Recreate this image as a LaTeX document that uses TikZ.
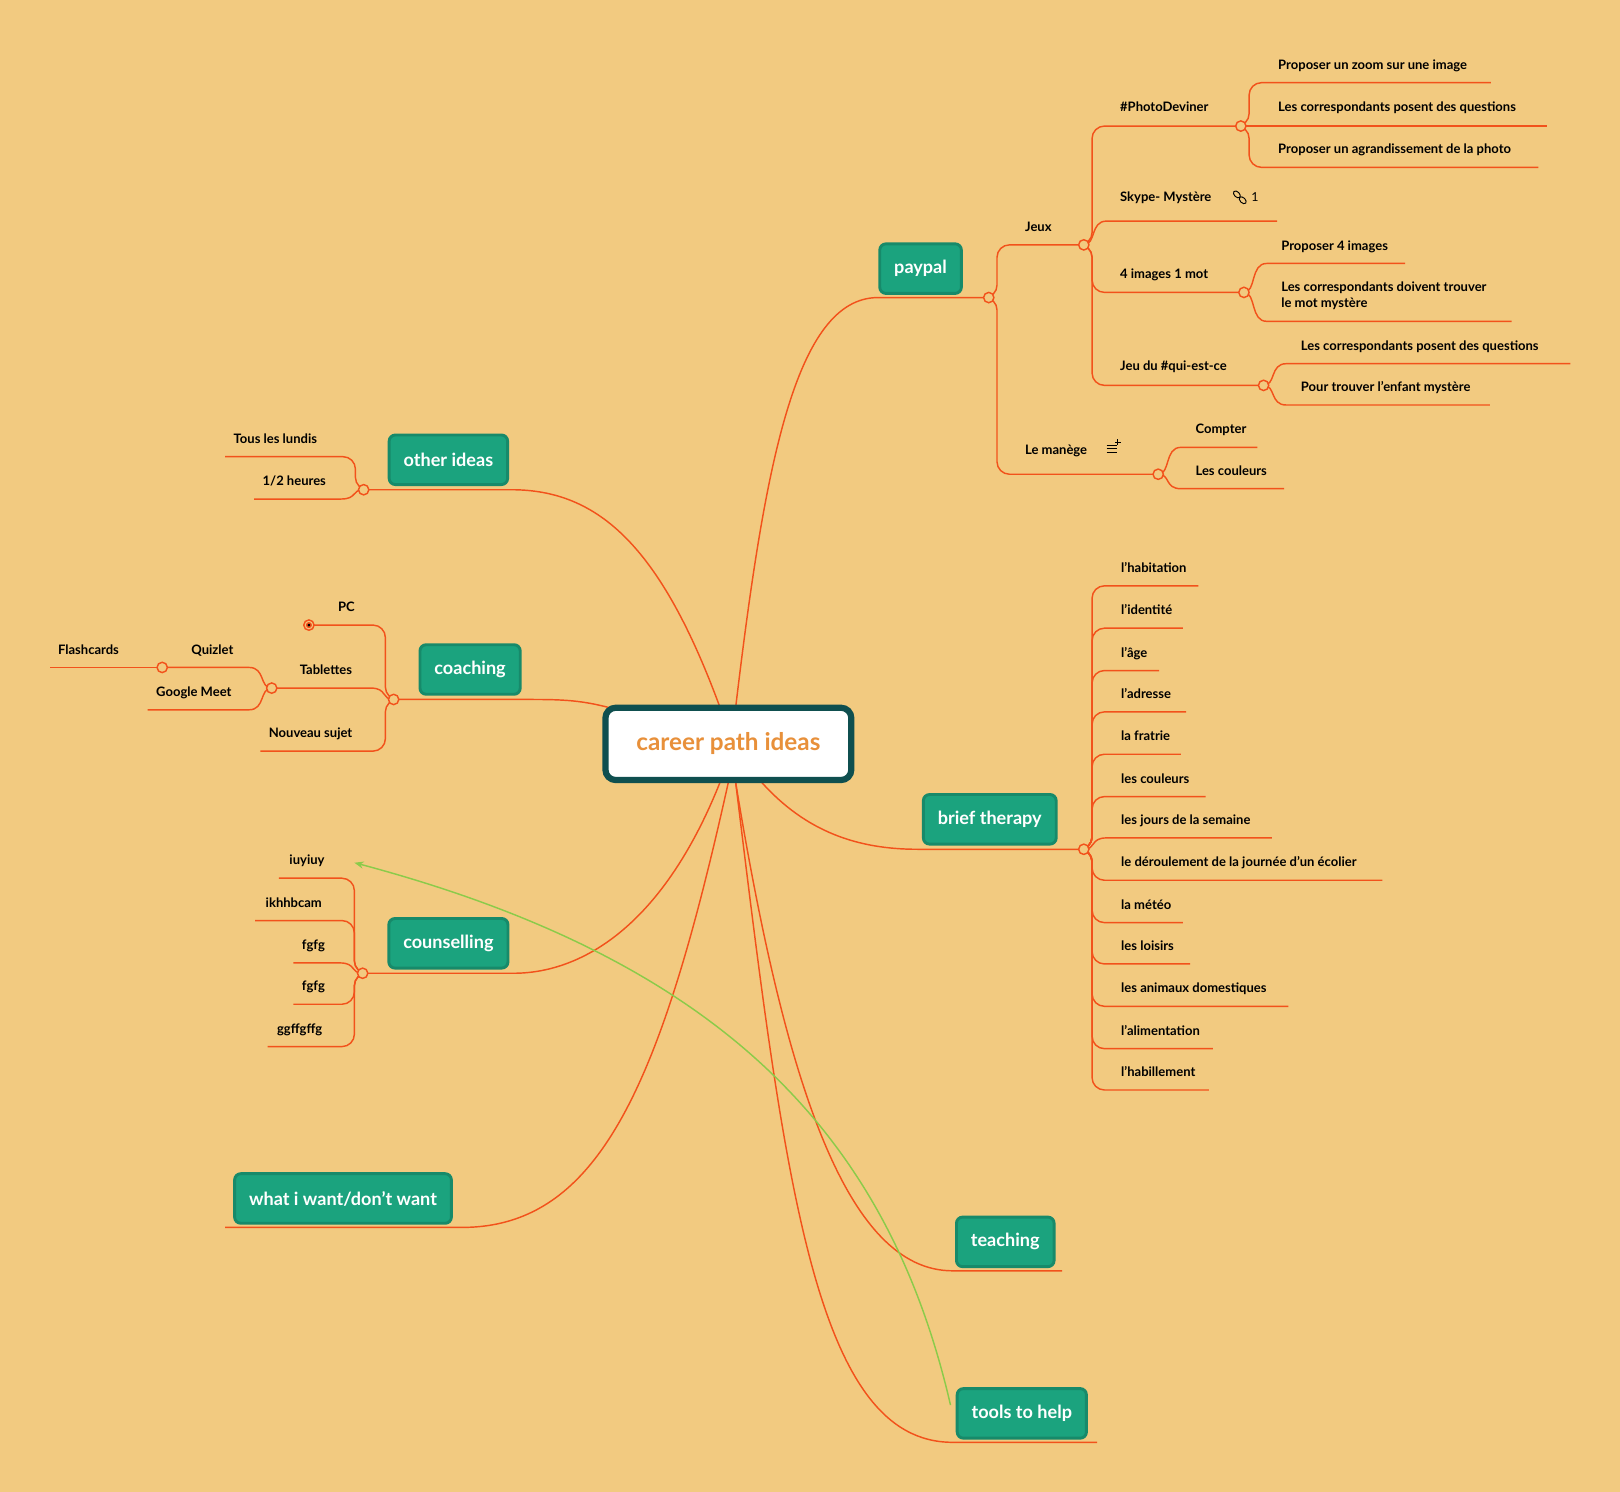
\documentclass[tikz,border=0pt]{standalone}
\usepackage{fontspec}
\setmainfont{Lato}
\usetikzlibrary{arrows.meta}
\definecolor{bg}{HTML}{F2CA80}
\definecolor{ln}{HTML}{F2521B}
\definecolor{tl}{HTML}{1BA37E}
\definecolor{tlb}{HTML}{178A6A}
\definecolor{ctr}{HTML}{0F4F4F}
\definecolor{ctxt}{HTML}{E8903A}
\definecolor{gr}{HTML}{8BCB4A}
\tikzset{
 ln/.style={draw=ln,line width=1.4pt},
 br/.style={ln,rounded corners=12pt},
 jt/.style={circle,draw=ln,fill=bg,line width=1.4pt,inner sep=0pt,minimum size=10pt},
 topic/.style={rectangle,rounded corners=6pt,fill=tl,draw=tlb,line width=2.8pt,text=white,font=\fontsize{17.5}{20}\selectfont\bfseries,inner xsep=14pt,inner ysep=0pt,minimum height=48pt},
 lf/.style={anchor=base west,font=\fontsize{12.6}{14}\selectfont\bfseries,inner sep=0pt,text=black},
}
% right branch: joint x, joint y, child y, end x
\newcommand{\rb}[4]{%
 \pgfmathparse{abs(#3-#2)<30?1:0}%
 \ifnum\pgfmathresult=1
  \draw[ln] (#1,#2) .. controls (#1+12,#2) and (#1+6,#3) .. (#1+22,#3) -- (#4,#3);
 \else
  \draw[br] (#1,#2) -- (#1+8,#2) -- (#1+8,#3) -- (#4,#3);
 \fi}
\newcommand{\lb}[4]{%
 \pgfmathparse{abs(#3-#2)<30?1:0}%
 \ifnum\pgfmathresult=1
  \draw[ln] (#1,#2) .. controls (#1-12,#2) and (#1-6,#3) .. (#1-22,#3) -- (#4,#3);
 \else
  \draw[br] (#1,#2) -- (#1-8,#2) -- (#1-8,#3) -- (#4,#3);
 \fi}
\begin{document}
\begin{tikzpicture}[x=1pt,y=-1pt]
\useasboundingbox[fill=bg] (0,0) rectangle (1568,1444);
% main curves
\draw[ln] (712,685) .. controls (740,450) and (770,288) .. (850,288) -- (957,288);
\draw[ln] (697,685) .. controls (640,530) and (580,474) .. (495,474) -- (352,474);
\draw[ln] (590,685) .. controls (560,677) and (540,677) .. (508,677) -- (381,677);
\draw[ln] (737,757) .. controls (780,805) and (830,822) .. (888,822) -- (1049,822);
\draw[ln] (697,757) .. controls (640,900) and (560,942) .. (497,942) -- (351,942);
\draw[ln] (705,757) .. controls (640,1050) and (580,1188) .. (447,1188) -- (218,1188);
\draw[ln] (712,757) .. controls (760,1050) and (820,1230) .. (922,1230) -- (1028,1230);
\draw[ln] (712,757) .. controls (760,1150) and (790,1396) .. (922,1396) -- (1062,1396);
% center
\node[rectangle,rounded corners=10pt,fill=white,draw=ctr,line width=6pt,minimum width=238pt,minimum height=70pt,text=ctxt,font=\fontsize{23.5}{26}\selectfont\bfseries] (c) at (705,720) {career path ideas};
% topics
\node[topic] (paypal) at (891,260) {paypal};
\node[topic] (other) at (434,445) {other ideas};
\node[topic] (coach) at (455,648) {coaching};
\node[topic] (brief) at (958,793) {brief therapy};
\node[topic] (couns) at (434,913) {counselling};
\node[topic] (want) at (332,1160) {what i want/don't want};
\node[topic] (teach) at (973,1202) {teaching};
\node[topic] (tools) at (989,1368) {tools to help};
% paypal subtree
\rb{957}{288}{237}{1049}
\rb{957}{288}{459}{1121}
\node[lf] at (992,224) {Jeux};
\node[lf] at (992,440) {Le manège};
\foreach \i in {0,1,2}{\draw[black,line width=0.9pt] (1071,431+\i*3.5) -- (1081,431+\i*3.5);}
\draw[black,line width=0.9pt] (1079,428) -- (1085,428) (1082,425) -- (1082,431);
\rb{1049}{237}{122}{1201}
\rb{1049}{237}{214}{1236}
\rb{1049}{237}{283}{1204}
\rb{1049}{237}{373}{1223}
\node[lf] at (1084,108) {\#PhotoDeviner};
\node[lf] at (1084,195) {Skype- Mystère};
\draw[line width=0.9pt,rotate around={-45:(1200,191)}] (1196,191) ellipse (4 and 2.5) (1204,191) ellipse (4 and 2.5);
\node[lf,font=\fontsize{12}{14}\selectfont] at (1211,195) {1};
\node[lf] at (1084,270) {4 images 1 mot};
\node[lf] at (1084,359) {Jeu du \#qui-est-ce};
\rb{1201}{122}{80}{1443}
\rb{1201}{122}{122}{1497}
\rb{1201}{122}{162}{1489}
\node[lf] at (1237,67) {Proposer un zoom sur une image};
\node[lf] at (1237,108) {Les correspondants posent des questions};
\node[lf] at (1237,149) {Proposer un agrandissement de la photo};
\rb{1204}{283}{255}{1360}
\rb{1204}{283}{311}{1463}
\node[lf] at (1240,242) {Proposer 4 images};
\node[lf] at (1240,282) {Les correspondants doivent trouver};
\node[lf] at (1240,298) {le mot mystère};
\rb{1223}{373}{352}{1520}
\rb{1223}{373}{392}{1442}
\node[lf] at (1259,339) {Les correspondants posent des questions};
\node[lf] at (1259,379) {Pour trouver l'enfant mystère};
\rb{1121}{459}{433}{1217}
\rb{1121}{459}{473}{1243}
\node[lf] at (1157,420) {Compter};
\node[lf] at (1157,460) {Les couleurs};
\node[jt] at (1201,122) {};
\node[jt] at (1204,283) {};
\node[jt] at (1223,373) {};
\node[jt] at (1121,459) {};
\node[jt] at (1049,237) {};
\node[jt] at (957,288) {};
% brief therapy
\foreach \y/\e/\t in {567/1160/l’habitation,608/1145/l’identité,649/1122/l’âge,689/1148/l’adresse,730/1143/la fratrie,771/1167/les couleurs,811/1231/les jours de la semaine,852/1338/le déroulement de la journée d’un écolier,893/1145/la météo,933/1152/les loisirs,974/1247/les animaux domestiques,1015/1174/l’alimentation,1055/1170/l’habillement}{
 \rb{1049}{822}{\y}{\e}
 \node[lf] at (1085,\y-13) {\t};
}
\node[jt] at (1049,822) {};
% other ideas
\lb{352}{474}{442}{218}
\lb{352}{474}{483}{246}
\node[lf] at (226,429) {Tous les lundis};
\node[lf] at (254,470) {1/2 heures};
\node[jt] at (352,474) {};
% coaching
\lb{381}{677}{605}{300}
\lb{381}{677}{666}{263}
\lb{381}{677}{727}{252}
\node[lf] at (327,592) {PC};
\node[lf] at (290,653) {Tablettes};
\node[lf] at (260,714) {Nouveau sujet};
\node[jt] at (299,605) {};
\fill[ln] (299,605) circle (2.2);
\lb{263}{666}{646}{157}
\lb{263}{666}{687}{143}
\node[lf] at (185,633) {Quizlet};
\node[lf] at (151,674) {Google Meet};
\draw[ln] (157,646) -- (48,646);
\node[lf] at (56,633) {Flashcards};
\node[jt] at (157,646) {};
\node[jt] at (263,666) {};
\node[jt] at (381,677) {};
% counselling
\foreach \y/\s/\t/\tx in {850/270/iuyiuy/280,891/247/ikhhbcam/257,932/284/fgfg/292,972/284/fgfg/292,1013/259/ggffgffg/268}{
 \lb{351}{942}{\y}{\s}
 \node[lf] at (\tx,\y-13) {\t};
}
\node[jt] at (351,942) {};
% relation arrow
\draw[gr,line width=1.4pt,-{Stealth[length=9pt,width=7pt]}] (920,1360) .. controls (860,1100) and (700,930) .. (343,835);
\end{tikzpicture}
\end{document}
